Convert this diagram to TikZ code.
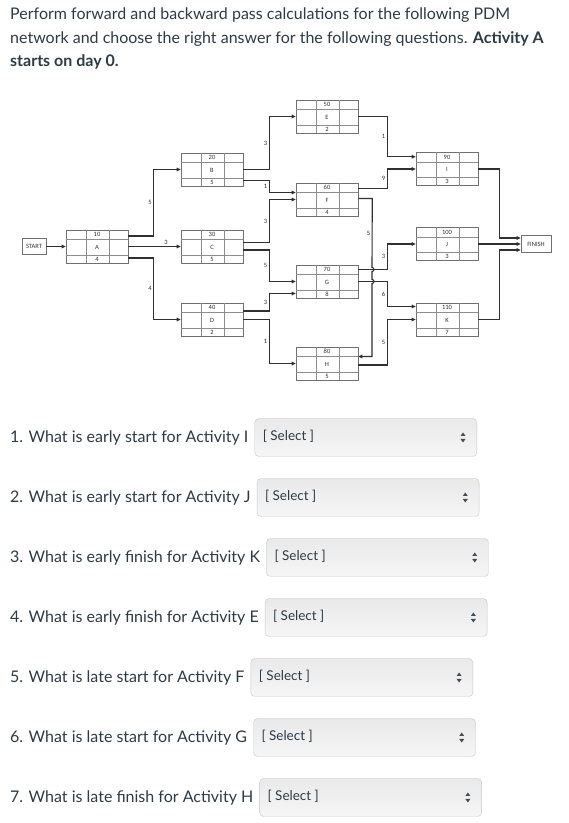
\documentclass[tikz,border=0pt]{standalone}
\usepackage{fontspec}
\setmainfont{Lato}
\newfontfamily\netfont{Carlito}
\usetikzlibrary{arrows.meta, positioning, calc}
\definecolor{CanvasText}{HTML}{2D3B45}
\definecolor{NetLine}{HTML}{303030}
\definecolor{NetGrid}{HTML}{707070}
\definecolor{SelBorder}{HTML}{C4C8CC}
\definecolor{SelTop}{HTML}{E9E9E9}
\definecolor{SelBottom}{HTML}{F6F6F6}
\tikzset{
    % Activity boxes of the PDM network
    actbox/.style={
        rectangle,
        draw=NetGrid,
        line width=0.6pt,
        minimum width=62pt,
        minimum height=33pt,
        inner sep=0pt
    },
    actgrid/.style={
        draw=NetGrid!80,
        line width=0.4pt
    },
    acttext/.style={
        font=\netfont\fontsize{6.5}{6.5}\selectfont,
        text=NetLine,
        inner sep=0pt
    },
    endbox/.style={
        rectangle,
        draw=NetGrid,
        line width=0.6pt,
        inner sep=0pt,
        font=\netfont\fontsize{6.5}{6.5}\selectfont,
        text=NetLine
    },
    % Connectors and lag labels
    link/.style={
        -{Triangle[length=4pt,width=3.6pt]},
        line width=1.1pt,
        NetLine
    },
    lag/.style={
        left,
        font=\netfont\fontsize{6.5}{6.5}\selectfont,
        text=NetLine,
        inner sep=1.5pt
    },
    % Question text and drop-down boxes
    qtext/.style={
        anchor=base west,
        inner sep=0pt,
        font=\fontsize{16}{19}\selectfont,
        text=CanvasText
    },
    selbox/.style={
        rectangle,
        rounded corners=4pt,
        draw=SelBorder,
        top color=SelTop,
        bottom color=SelBottom,
        minimum width=222pt,
        minimum height=38pt
    },
    seltext/.style={
        anchor=west,
        inner sep=0pt,
        font=\fontsize{13.5}{15}\selectfont,
        text=CanvasText
    },
    seltri/.style={
        fill=CanvasText!90
    }
}
% activity box: name, position, number, letter, duration
\newcommand{\actbox}[5]{%
    \node[actbox] (#1) at (#2) {};
    \draw[actgrid] ($(#1.north west)+(20,0)$) -- ($(#1.south west)+(20,0)$)
        ($(#1.north east)+(-19,0)$) -- ($(#1.south east)+(-19,0)$)
        ($(#1.north west)+(0,9.5)$) -- ($(#1.north east)+(0,9.5)$)
        ($(#1.south west)+(0,-8.5)$) -- ($(#1.south east)+(0,-8.5)$);
    \node[acttext] (#1num) at ($(#1.north)+(0,5)$) {#3};
    \node[acttext] (#1act) at ($(#1.center)+(0,0.6)$) {#4};
    \node[acttext] (#1dur) at ($(#1.south)+(0,-4.3)$) {#5};
}

\begin{document}
\begin{tikzpicture}[x=1pt, y=-1pt]
    \useasboundingbox (0,0) rectangle (569,823);
    \fill[white] (0,0) rectangle (569,823);

    % Question statement
    \node[qtext] (title1) at (10,19.5) {Perform forward and backward pass calculations for the following PDM};
    \node[qtext] (title2) at (10,43) {network and choose the right answer for the following questions. \textbf{Activity A}};
    \node[qtext] (title3) at (10,66.5) {\textbf{starts on day 0.}};

    % Activities
    \node[endbox, minimum width=24pt, minimum height=16pt] (start) at (34,246.5) {START};
    \actbox{actA}{97,246.5}{10}{A}{4}
    \actbox{actB}{212,169.5}{20}{B}{5}
    \actbox{actC}{212,246.5}{30}{C}{5}
    \actbox{actD}{212,319.5}{40}{D}{2}
    \actbox{actE}{327,116.5}{50}{E}{2}
    \actbox{actF}{327,199.5}{60}{F}{4}
    \actbox{actG}{327,281.5}{70}{G}{8}
    \actbox{actH}{327,363.5}{80}{H}{5}
    \actbox{actI}{447,169}{90}{I}{3}
    \actbox{actJ}{447,244}{100}{J}{3}
    \actbox{actK}{447,319.5}{110}{K}{7}
    \node[endbox, minimum width=30pt, minimum height=17pt] (finish) at (536,244) {FINISH};

    % Links out of START and A
    \draw[link] (start) -- (actA);
    \draw[link] ($(actA.east)+(0,-10.5)$) -- ++(25.5,0) |- node[lag, pos=0.25] (wAB) {5} (actB.west);
    \draw[link] (actA.east) -- node[lag, above, pos=0.72] (wAC) {3} (actC.west);
    \draw[link] ($(actA.east)+(0,11.5)$) -- ++(25.5,0) |- node[lag, pos=0.25] (wAD) {4} (actD.west);

    % Links out of B, C and D
    \draw[link] (actB.east) -- ++(26,0) |- node[lag, pos=0.25] (wBE) {3} (actE.west);
    \draw[link] ($(actB.east)+(0,11)$) -- ++(26,0) |- node[lag, pos=0.25] (wBF) {1} ($(actF.west)+(0,-7)$);
    \draw[link] ($(actC.east)+(0,-4)$) -- ++(26,0) |- node[lag, pos=0.25] (wCF) {3} (actF.west);
    \draw[link] ($(actC.east)+(0,3.5)$) -- ++(26,0) |- node[lag, pos=0.25] (wCG) {5} (actG.west);
    \draw[link] ($(actD.east)+(0,-8.5)$) -- ++(26,0) |- node[lag, pos=0.25] (wDG) {3} ($(actG.west)+(0,12)$);
    \draw[link] (actD.east) -- ++(26,0) |- node[lag, pos=0.25] (wDH) {1} (actH.west);

    % Links out of E, F, G and H
    \draw[link] (actE.east) -- ++(29,0) |- node[lag, pos=0.25] (wEI) {1} ($(actI.west)+(0,-12.3)$);
    \draw[link] ($(actF.east)+(0,-11)$) -- ++(29,0) |- node[lag, pos=0.25] (wFI) {9} (actI.west);
    \draw[link] ($(actG.east)+(0,-12)$) -- ++(29,0) |- node[lag, pos=0.25] (wGJ) {3} (actJ.west);
    \draw[link] (actG.east) -- ++(29,0) |- node[lag, pos=0.25] (wGK) {6} ($(actK.west)+(0,-13)$);
    \draw[link] ($(actH.east)+(0,1.5)$) -- ++(29,0) |- node[lag, pos=0.25] (wHK) {5} (actK.west);
    % F to H hops over the links out of G
    \draw[link] ($(actF.east)+(0,-1)$) -- ++(14,0) -- node[lag] (wFH) {5} (372,267.5)
        arc[start angle=-90, end angle=90, radius=2] -- (372,279.5)
        arc[start angle=-90, end angle=90, radius=2] -- (372,356.5) -- ($(actH.east)+(0,-7)$);

    % Links into FINISH
    \draw[link] (actI.east) -- ++(21,0) |- ($(finish.west)+(0,-6)$);
    \draw[link] (actJ.east) -- (finish.west);
    \draw[link] (actK.east) -- ++(21,0) |- ($(finish.west)+(0,6)$);

    % Question 1
    \node[qtext] (q1) at (10,442) {1. What is early start for Activity I};
    \node[selbox, right=6pt of q1] (sel1) {};
    \node[seltext] (sel1txt) at ($(sel1.west)+(8,-1)$) {[ Select ]};
    \fill[seltri] ($(sel1.east)+(-14,-5)$) -- ++(2.5,3.5) -- ++(-5,0) -- cycle
        ($(sel1.east)+(-14,5)$) -- ++(2.5,-3.5) -- ++(-5,0) -- cycle;

    % Question 2
    \node[qtext] (q2) at (10,502) {2. What is early start for Activity J};
    \node[selbox, right=6pt of q2] (sel2) {};
    \node[seltext] (sel2txt) at ($(sel2.west)+(8,-1)$) {[ Select ]};
    \fill[seltri] ($(sel2.east)+(-14,-5)$) -- ++(2.5,3.5) -- ++(-5,0) -- cycle
        ($(sel2.east)+(-14,5)$) -- ++(2.5,-3.5) -- ++(-5,0) -- cycle;

    % Question 3
    \node[qtext] (q3) at (10,562) {3. What is early finish for Activity K};
    \node[selbox, right=6pt of q3] (sel3) {};
    \node[seltext] (sel3txt) at ($(sel3.west)+(8,-1)$) {[ Select ]};
    \fill[seltri] ($(sel3.east)+(-14,-5)$) -- ++(2.5,3.5) -- ++(-5,0) -- cycle
        ($(sel3.east)+(-14,5)$) -- ++(2.5,-3.5) -- ++(-5,0) -- cycle;

    % Question 4
    \node[qtext] (q4) at (10,622) {4. What is early finish for Activity E};
    \node[selbox, right=6pt of q4] (sel4) {};
    \node[seltext] (sel4txt) at ($(sel4.west)+(8,-1)$) {[ Select ]};
    \fill[seltri] ($(sel4.east)+(-14,-5)$) -- ++(2.5,3.5) -- ++(-5,0) -- cycle
        ($(sel4.east)+(-14,5)$) -- ++(2.5,-3.5) -- ++(-5,0) -- cycle;

    % Question 5
    \node[qtext] (q5) at (10,682) {5. What is late start for Activity F};
    \node[selbox, right=6pt of q5] (sel5) {};
    \node[seltext] (sel5txt) at ($(sel5.west)+(8,-1)$) {[ Select ]};
    \fill[seltri] ($(sel5.east)+(-14,-5)$) -- ++(2.5,3.5) -- ++(-5,0) -- cycle
        ($(sel5.east)+(-14,5)$) -- ++(2.5,-3.5) -- ++(-5,0) -- cycle;

    % Question 6
    \node[qtext] (q6) at (10,742) {6. What is late start for Activity G};
    \node[selbox, right=6pt of q6] (sel6) {};
    \node[seltext] (sel6txt) at ($(sel6.west)+(8,-1)$) {[ Select ]};
    \fill[seltri] ($(sel6.east)+(-14,-5)$) -- ++(2.5,3.5) -- ++(-5,0) -- cycle
        ($(sel6.east)+(-14,5)$) -- ++(2.5,-3.5) -- ++(-5,0) -- cycle;

    % Question 7
    \node[qtext] (q7) at (10,802) {7. What is late finish for Activity H};
    \node[selbox, right=6pt of q7] (sel7) {};
    \node[seltext] (sel7txt) at ($(sel7.west)+(8,-1)$) {[ Select ]};
    \fill[seltri] ($(sel7.east)+(-14,-5)$) -- ++(2.5,3.5) -- ++(-5,0) -- cycle
        ($(sel7.east)+(-14,5)$) -- ++(2.5,-3.5) -- ++(-5,0) -- cycle;
\end{tikzpicture}
\end{document}
